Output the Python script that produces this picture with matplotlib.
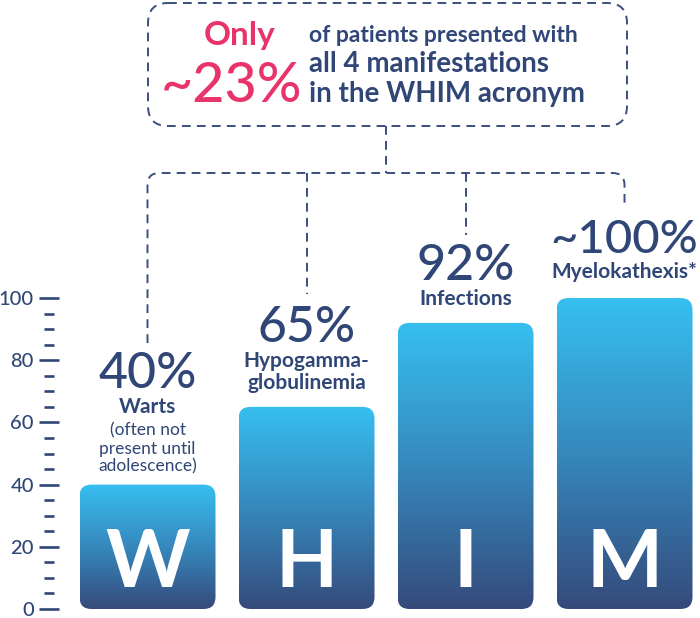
import numpy as np
import matplotlib
matplotlib.use("Agg")
import matplotlib.pyplot as plt
from matplotlib.patches import FancyBboxPatch, PathPatch
from matplotlib.path import Path
from matplotlib.colors import LinearSegmentedColormap
from matplotlib.ticker import FixedLocator

letters = ["W", "H", "I", "M"]
values = [40, 65, 92, 100]
value_labels = ["40%", "65%", "92%", "~100%"]
names = [["Warts"], ["Hypogamma-", "globulinemia"], ["Infections"], ["Myelokathexis*"]]
notes = [["(often not", "present until", "adolescence)"], [], [], []]
yticks = [0, 20, 40, 60, 80, 100]
minor_ticks = [v for v in range(0, 101, 5) if v % 20]

NAVY = "#2f4677"
PINK = "#e8336b"
DASH_C = "#3a4f80"

plt.rcParams["font.family"] = ["Lato", "DejaVu Sans"]

W, H = 700, 618
fig = plt.figure(figsize=(W / 100, H / 100), dpi=100)

# main axes: y=0 at pixel 609, y=100 at pixel 298 (from top)
zero_px = 609
px_per_y = 3.11
px_per_x = 159.0
left_px = 48.5
x0_px = 147.5
ax = fig.add_axes([left_px / W, 0, 1 - left_px / W, 1])
for s in ax.spines.values():
    s.set_visible(False)
ax.set_xticks([])
ax.set_yticks(yticks)
ax.yaxis.set_minor_locator(FixedLocator(minor_ticks))
ax.tick_params(axis="y", which="major", direction="inout", length=13.7, width=1.9,
               color=NAVY, labelcolor=NAVY, labelsize=14.5, pad=3.6)
ax.tick_params(axis="y", which="minor", direction="inout", length=6.5, width=1.9, color=NAVY)
for lab in ax.get_yticklabels():
    lab.set_fontweight("medium")
    lab.set_verticalalignment("center_baseline")

cmap = LinearSegmentedColormap.from_list("bar", ["#354a7b", "#3688bd", "#37bff0"])
grad = np.linspace(0, 1, 256).reshape(-1, 1)
bar_w = 136 / px_per_x
r = 12 / px_per_x
value_sizes = [36, 36, 36, 34]
for i, v in enumerate(values):
    patch = FancyBboxPatch((i - bar_w / 2, 0), bar_w, v,
                           boxstyle=f"round,pad=0,rounding_size={r}",
                           mutation_aspect=px_per_x / px_per_y,
                           facecolor="none", edgecolor="none")
    ax.add_patch(patch)
    im = ax.imshow(grad, extent=(i - bar_w / 2, i + bar_w / 2, 0, v), origin="lower",
                   cmap=cmap, aspect="auto", interpolation="bilinear", zorder=2)
    im.set_clip_path(patch)
    ax.text(i, 22 / px_per_y, letters[i], ha="center", va="baseline", color="white",
            fontsize=58, fontweight="bold", zorder=3)

    # labels stacked above the bar top: (text, size, weight, pixels above previous baseline)
    lines = []
    for k, n in enumerate(reversed(notes[i])):
        lines.append((n, 12.5, "normal", 13 if k == 0 else 18))
    for k, n in enumerate(reversed(names[i])):
        if k == 0:
            gap = 23 if notes[i] else (20 if i == 3 else 18)
        else:
            gap = 22
        lines.append((n, 15, "bold", gap))
    lines.append((value_labels[i], value_sizes[i], "medium", 25))
    y = v * px_per_y
    for txt, size, wt, gap in lines:
        y += gap
        ax.text(i, y / px_per_y, txt, ha="center", va="baseline", color=NAVY,
                fontsize=size, fontweight=wt, clip_on=False)
ax.set_xlim(-(x0_px - left_px) / px_per_x, (W - x0_px) / px_per_x)
ax.set_ylim(-(H - zero_px) / px_per_y, zero_px / px_per_y)

# overlay in pixel coordinates (top-left origin) for the callout
ov = fig.add_axes([0, 0, 1, 1], facecolor="none")
ov.set_xlim(0, W)
ov.set_ylim(H, 0)
ov.axis("off")

fig.canvas.draw()
centers = [ax.transData.transform((i, 0))[0] for i in range(len(values))]
ls = (0, (4.5, 3.2))
dash = dict(color=DASH_C, lw=1.4, linestyle=ls)

box = FancyBboxPatch((148, 3), 479, 123, boxstyle="round,pad=0,rounding_size=20",
                     facecolor="none", edgecolor=DASH_C, lw=1.4, linestyle=ls)
ov.add_patch(box)
ov.plot([386, 386], [126, 173], **dash)

rc = 12
lx, rx, hy = centers[0], centers[3], 173
verts = [(lx, 343), (lx, hy + rc), (lx, hy), (lx + rc, hy), (rx - rc, hy), (rx, hy), (rx, hy + rc), (rx, 204)]
codes = [Path.MOVETO, Path.LINETO, Path.CURVE3, Path.CURVE3, Path.LINETO, Path.CURVE3, Path.CURVE3, Path.LINETO]
ov.add_patch(PathPatch(Path(verts, codes), facecolor="none", edgecolor=DASH_C, lw=1.4, linestyle=ls))
ov.plot([centers[1], centers[1]], [hy, 294], **dash)
ov.plot([centers[2], centers[2]], [hy, 235], **dash)

ov.text(240, 45, "Only", ha="center", va="baseline", color=PINK, fontsize=24, fontweight="bold")
ov.text(231, 102, "~23%", ha="center", va="baseline", color=PINK, fontsize=40, fontweight="medium")
header = ["of patients presented with", "all 4 manifestations", "in the WHIM acronym"]
for k, line in enumerate(header):
    ov.text(309, 42 + 30 * k, line, ha="left", va="baseline", color=NAVY,
            fontsize=16.5 if k == 0 else 20, fontweight="bold")

fig.savefig("out.png", dpi=100)
